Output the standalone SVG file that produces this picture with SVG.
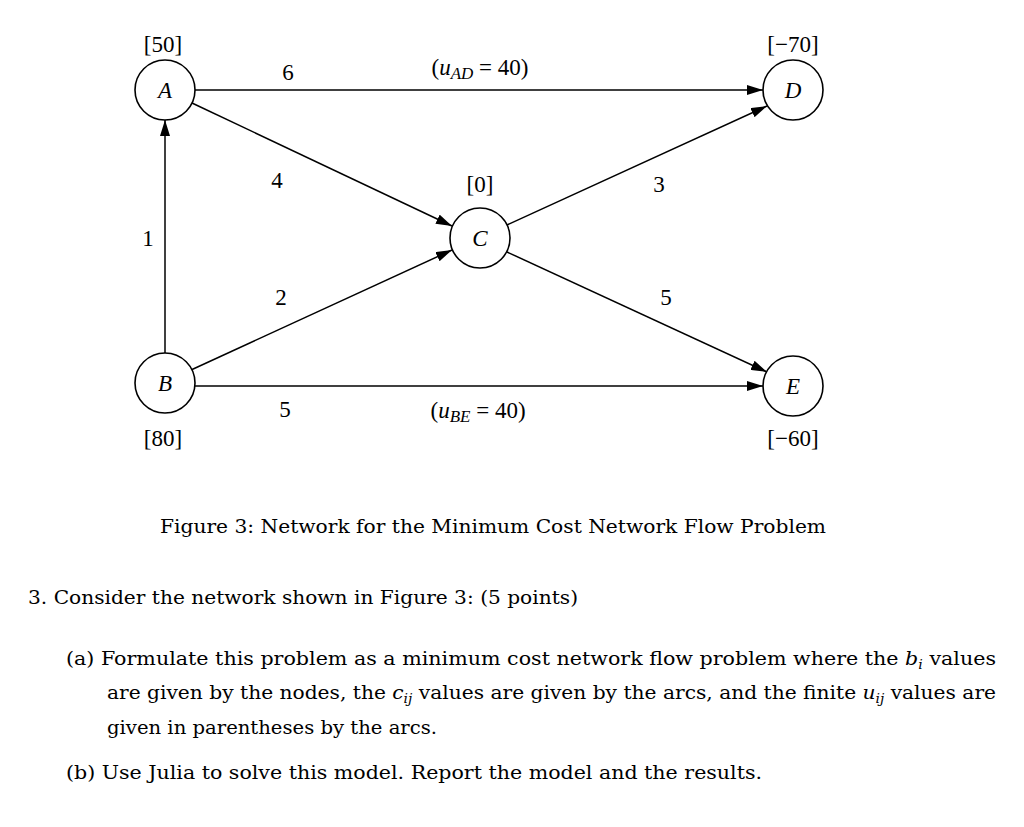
<svg xmlns="http://www.w3.org/2000/svg" width="1024" height="827" viewBox="0 0 1024 827">
<style>
.n{fill:#fff;stroke:#000;stroke-width:1.6}
.t{font-family:"Liberation Serif",serif;font-size:23px;text-anchor:middle;fill:#000}
.i{font-style:italic}
.p{font-family:"DejaVu Serif","Liberation Serif",serif;font-size:19px;fill:#000}
line{stroke:#000;stroke-width:1.5;marker-end:url(#a)}
</style>
<defs><marker id="a" viewBox="0 0 16 10" refX="16" refY="5" markerWidth="16" markerHeight="10" markerUnits="userSpaceOnUse" orient="auto"><path d="M0,0L16,5L0,10z"/></marker></defs>
<rect width="1024" height="827" fill="#fff"/>
<g id="connectors">
<line x1="195" y1="90" x2="763" y2="90"/>
<line x1="192" y1="103" x2="452" y2="226"/>
<line x1="165" y1="353" x2="165" y2="120"/>
<line x1="191" y1="370" x2="452" y2="250"/>
<line x1="507" y1="225" x2="767" y2="106"/>
<line x1="507" y1="252" x2="767" y2="372"/>
<line x1="195" y1="386" x2="763" y2="386"/>
</g>
<g id="A"><circle class="n" cx="165" cy="90" r="30"/><text class="t i" x="165" y="98">A</text></g>
<g id="D"><circle class="n" cx="793" cy="90" r="30"/><text class="t i" x="793" y="98">D</text></g>
<g id="C"><circle class="n" cx="480" cy="238" r="30"/><text class="t i" x="480" y="246">C</text></g>
<g id="B"><circle class="n" cx="165" cy="383" r="30"/><text class="t i" x="165" y="391">B</text></g>
<g id="E"><circle class="n" cx="793" cy="386" r="30"/><text class="t i" x="793" y="394">E</text></g>
<g id="labels">
<text class="t" x="163" y="52">[50]</text>
<text class="t" x="793" y="52">[−70]</text>
<text class="t" x="288" y="80">6</text>
<text class="t" x="480" y="75">(<tspan class="i">u<tspan font-size="17" dy="4">AD</tspan></tspan><tspan dy="-4"> = 40)</tspan></text>
<text class="t" x="277" y="188">4</text>
<text class="t" x="480" y="192">[0]</text>
<text class="t" x="659" y="192">3</text>
<text class="t" x="148" y="246">1</text>
<text class="t" x="281" y="305">2</text>
<text class="t" x="666" y="305">5</text>
<text class="t" x="285" y="417">5</text>
<text class="t" x="478" y="418">(<tspan class="i">u<tspan font-size="17" dy="4">BE</tspan></tspan><tspan dy="-4"> = 40)</tspan></text>
<text class="t" x="163" y="446">[80]</text>
<text class="t" x="793" y="446">[−60]</text>
</g>
<text class="p" x="160" y="533" textLength="666" lengthAdjust="spacingAndGlyphs">Figure 3: Network for the Minimum Cost Network Flow Problem</text>
<text class="p" x="28" y="604" textLength="550" lengthAdjust="spacingAndGlyphs">3. Consider the network shown in Figure 3: (5 points)</text>
<text class="p" x="66" y="665" textLength="930" lengthAdjust="spacingAndGlyphs">(a) Formulate this problem as a minimum cost network flow problem where the <tspan font-style="italic">b<tspan font-size="13" dy="4">i</tspan></tspan><tspan dy="-4"> values</tspan></text>
<text class="p" x="107" y="699" textLength="889" lengthAdjust="spacingAndGlyphs">are given by the nodes, the <tspan font-style="italic">c<tspan font-size="13" dy="4">ij</tspan></tspan><tspan dy="-4"> values are given by the arcs, and the finite </tspan><tspan font-style="italic">u<tspan font-size="13" dy="4">ij</tspan></tspan><tspan dy="-4"> values are</tspan></text>
<text class="p" x="107" y="734" textLength="330" lengthAdjust="spacingAndGlyphs">given in parentheses by the arcs.</text>
<text class="p" x="66" y="779" textLength="696" lengthAdjust="spacingAndGlyphs">(b) Use Julia to solve this model. Report the model and the results.</text>
</svg>
